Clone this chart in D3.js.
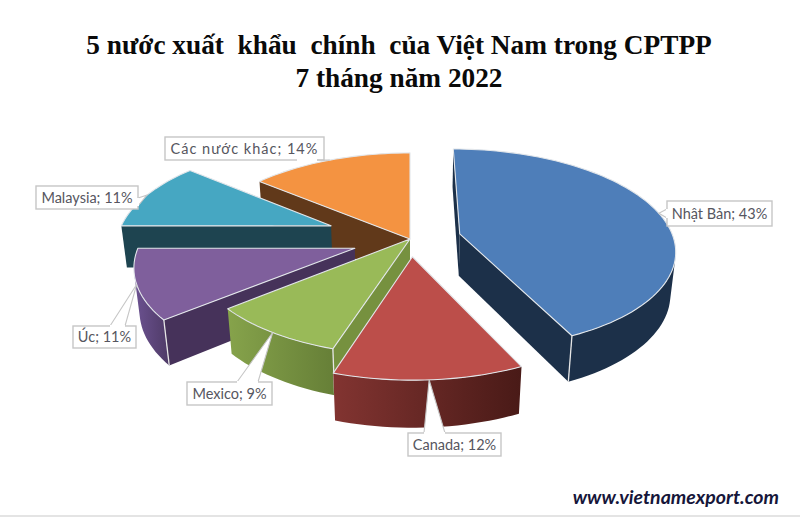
<!DOCTYPE html>
<html>
<head>
<meta charset="utf-8">
<script src="https://cdn.jsdelivr.net/npm/d3@7"></script>
<style>
  body { margin: 0; background: #fff; }
  text { white-space: pre; }
</style>
</head>
<body>
<svg id="chart"></svg>
<script>
const width  = 800
const height = 517

// Data
const categories = ["Nhật Bản", "Canada", "Mexico", "Úc", "Malaysia", "Các nước khác"]
const shares     = [43, 12, 9, 11, 11, 14]

// Styles, one per slice. Rim gradient runs left to right
const topColors   = ["#4e7eb9", "#bc4e4a", "#99ba58", "#7f5f9c", "#46a7c2", "#f49341"]
const rimLeft     = ["#1c3049", "#823431", "#86a34b", "#6c5291", "#1f4552", "#61391a"]
const rimRight    = ["#1c3049", "#491a17", "#667f37", "#4e3a66", "#1f4552", "#61391a"]
const sideColors  = ["#1c3049", "#5a2220", "#76913f", "#46325a", "#1e4450", "#61391a"]
const explodeBy   = [0.24, 0.175, 0, 0.27, 0.4, 0]
const labelSpacing = [0, 0, 0, 0, 0, 1]

// Label boxes: x, y, w, h, then the two points where the pointer leaves the box
const labelBoxes = [
  [667, 201, 105, 25, [667, 209], [667, 218]],
  [408, 433,  93, 23, [424, 433], [445, 433]],
  [187, 382,  85, 23, [237, 382], [258, 382]],
  [ 73, 326,  63, 22, [110, 326], [125, 326]],
  [ 36, 186, 102, 23, [138, 198], [138, 206]],
  [165, 137, 159, 23, [297, 160], [317, 160]]
]

// Back to front
const drawOrder = [5, 4, 3, 2, 1, 0]

// Perspective of the pie
const cx = 410, cy = 239
const radiusX = 214, radiusY = 99, depth = 43
const tilt = 0.15, shrink = 0.02

const project = (X, Y, Z) => {
  const d = 1 - tilt * Y + shrink * Z
  return [cx + radiusX * X / d, cy + (radiusY * Y + depth * Z) / d]
}

const line = d3.line()

const svg = d3.select("#chart")
  .attr("width", width)
  .attr("height", height)
  .attr("viewBox", [0, 0, width, height])

svg.append("rect").attr("width", width).attr("height", height).attr("fill", "#fff")
const defs = svg.append("defs")

const slices = d3.pie().sort(null).value(d => d)(shares)

const drawSlice = (i) => {
  const s = slices[i]
  const mid = (s.startAngle + s.endAngle) / 2
  const ex = explodeBy[i] * Math.sin(mid)
  const ey = -explodeBy[i] * Math.cos(mid)
  const disc = (a) => [ex + Math.sin(a), ey - Math.cos(a)]

  const steps = Math.max(8, Math.round((s.endAngle - s.startAngle) * 30))
  const angles = d3.range(steps + 1).map(k => s.startAngle + (s.endAngle - s.startAngle) * k / steps)
  const rim = angles.map(disc)
  const apex = [ex, ey]
  const g = svg.append("g")

  const quad = (a, b) => [project(a[0], a[1], 0), project(b[0], b[1], 0), project(b[0], b[1], 1), project(a[0], a[1], 1)]
  // front-facing walls wind against the top face (d3.polygonArea is positive for those)
  const facing = (a, b) => d3.polygonArea(quad(a, b)) > 0

  const startVisible = facing(apex, rim[0])
  const endVisible = facing(rim[steps], apex)

  if (startVisible) g.append("path").attr("d", line(quad(apex, rim[0])) + "Z").attr("fill", sideColors[i])
  if (endVisible) g.append("path").attr("d", line(quad(rim[steps], apex)) + "Z").attr("fill", sideColors[i])

  // visible part of the rim as one shape with a gradient
  const front = rim.filter((p, k) =>
    (k < steps && facing(p, rim[k + 1])) || (k > 0 && facing(rim[k - 1], p)))
  if (front.length > 1) {
    const outline = front.map(p => project(p[0], p[1], 0))
      .concat(front.slice().reverse().map(p => project(p[0], p[1], 1)))
    const grad = defs.append("linearGradient")
      .attr("id", "rim" + i)
      .attr("gradientUnits", "userSpaceOnUse")
      .attr("x1", d3.min(outline, d => d[0])).attr("x2", d3.max(outline, d => d[0]))
      .attr("y1", 0).attr("y2", 0)
    grad.append("stop").attr("offset", 0).attr("stop-color", rimLeft[i])
    grad.append("stop").attr("offset", 1).attr("stop-color", rimRight[i])
    g.append("path").attr("d", line(outline) + "Z").attr("fill", "url(#rim" + i + ")")
  }

  // light edge where two visible walls meet
  const edge = (p) => g.append("path")
    .attr("d", line([project(p[0], p[1], 0), project(p[0], p[1], 1)]))
    .attr("stroke", "#e6e6e6").attr("stroke-width", 1.3).attr("fill", "none")
  if (endVisible && facing(rim[steps - 1], rim[steps])) edge(rim[steps])
  if (startVisible && facing(rim[0], rim[1])) edge(rim[0])

  const top = [apex].concat(rim).map(p => project(p[0], p[1], 0))
  g.append("path")
    .attr("d", line(top) + "Z")
    .attr("fill", topColors[i])
    .attr("stroke", "#e2e6ea")
    .attr("stroke-width", 1.1)
    .attr("stroke-linejoin", "round")
}

drawOrder.forEach(drawSlice)

// Callout labels, pointer tip sits on the rim at the middle of the slice
const labels = svg.append("g")
slices.forEach((s, i) => {
  const mid = (s.startAngle + s.endAngle) / 2
  const tip = project((explodeBy[i] + 1) * Math.sin(mid), -(explodeBy[i] + 1) * Math.cos(mid), 0)
  const [x, y, w, h, b0, b1] = labelBoxes[i]

  labels.append("rect")
    .attr("x", x).attr("y", y).attr("width", w).attr("height", h)
    .attr("fill", "#fff").attr("stroke", "#c6c6c6").attr("stroke-width", 1.4)

  labels.append("path")
    .attr("d", line([b0, tip, b1]))
    .attr("fill", "#fff").attr("stroke", "#c6c6c6").attr("stroke-width", 1.1)

  // hide the box border under the pointer
  labels.append("path")
    .attr("d", line([b0, b1]))
    .attr("stroke", "#fff").attr("stroke-width", 2)

  labels.append("text")
    .attr("x", x + w / 2).attr("y", y + h / 2 + 5)
    .attr("text-anchor", "middle")
    .attr("font-family", "Lato, sans-serif")
    .attr("font-size", 14.5)
    .attr("letter-spacing", labelSpacing[i])
    .attr("fill", "#565660")
    .text(categories[i] + "; " + shares[i] + "%")
})

// Title
const titleLines = ["5 nước xuất  khẩu  chính  của Việt Nam trong CPTPP", "7 tháng năm 2022"]
svg.selectAll("text.title").data(titleLines).enter().append("text")
  .attr("class", "title")
  .attr("x", 399)
  .attr("y", (d, i) => 54 + i * 33)
  .attr("text-anchor", "middle")
  .attr("font-family", "'Liberation Serif', serif")
  .attr("font-weight", "bold")
  .attr("font-size", 27.3)
  .attr("fill", "#0a0a0a")
  .text(d => d)

// Source
svg.append("text")
  .attr("x", 779).attr("y", 504)
  .attr("text-anchor", "end")
  .attr("font-family", "Lato, sans-serif")
  .attr("font-weight", "bold")
  .attr("font-style", "italic")
  .attr("font-size", 19.5)
  .attr("fill", "#16163a")
  .text("www.vietnamexport.com")

svg.append("rect").attr("x", 0).attr("y", 515).attr("width", width).attr("height", 2).attr("fill", "#e4e4e4")
</script>
</body>
</html>
